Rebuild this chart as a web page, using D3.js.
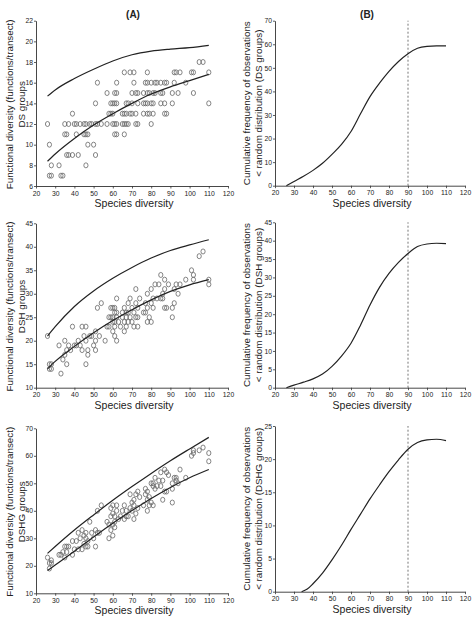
<!DOCTYPE html>
<head>
  <meta charset="utf-8">
  <script src="https://d3js.org/d3.v7.min.js"></script>
  <style>
    body { margin: 0; background: #fff; }
    text { font-family: "Liberation Sans", Arial, sans-serif; fill: #222; }
  </style>
</head>
<body>
  <svg width="474" height="621"></svg>
  <script>
    // --- data ---
    const xTicks = [20, 30, 40, 50, 60, 70, 80, 90, 100, 110, 120];

    // DS groups: species diversity / functional diversity
    const dsPoints = [
      [105,18],[107,18],
      [66,17],[69,17],[71,17],[78,17],[92,17],[93,17],[95,17],[101,17],[102,17],[110,17],
      [52,16],[62,16],[71,16],[77,16],[78,16],[80,16],[82,16],[83,16],[85,16],[87,16],[88,16],[92,16],[98,16],
      [57,15],[61,15],[62,15],[70,15],[72,15],[73,15],[76,15],[78,15],[79,15],[81,15],[82,15],[85,15],[86,15],[91,15],[94,15],[102,15],
      [51,14],[59,14],[60,14],[61,14],[62,14],[67,14],[68,14],[70,14],[73,14],[76,14],[77,14],[78,14],[80,14],[81,14],[85,14],[87,14],[91,14],[110,14],
      [39,13],[58,13],[59,13],[60,13],[65,13],[66,13],[67,13],[69,13],[70,13],[72,13],[76,13],[78,13],[79,13],[81,13],[87,13],[88,13],
      [26,12],[35,12],[37,12],[40,12],[41,12],[43,12],[45,12],[46,12],[48,12],[49,12],[51,12],[52,12],[54,12],[57,12],[60,12],[61,12],[62,12],[65,12],[66,12],[67,12],[68,12],[72,12],[73,12],[80,12],
      [35,11],[36,11],[41,11],[45,11],[46,11],[47,11],[61,11],[62,11],[66,11],
      [27,10],[47,10],[50,10],
      [36,9],[37,9],[39,9],[42,9],[51,9],
      [28,8],[32,8],[46,8],
      [27,7],[28,7],[33,7],[34,7]
    ];
    const dsUpper = [[26,14.7],[30,15.3],[40,16.4],[50,17.3],[60,18.1],[70,18.7],[80,19.05],[90,19.25],[100,19.4],[110,19.62]];
    const dsLower = [[26,8.4],[30,9.1],[40,10.6],[50,11.9],[60,13.0],[70,14.0],[80,14.9],[90,15.6],[100,16.2],[110,16.8]];
    const dsCum = [[26,0],[30,1.8],[35,4],[40,6.5],[45,9.5],[50,13.3],[55,17.5],[60,23],[65,30.5],[70,37.8],[75,43.5],[80,48.5],[85,52.7],[90,56],[95,58.3],[100,59.1],[105,59.3],[110,59.3]];

    // DSH groups
    const dshPoints = [
      [26,21],[27,14],[27,15],[28,15],[28,14],[32,19],[33,13],[34,16],[35,17],[35,20],[36,15],[36,18],[37,19],[38,18],
      [39,23],[40,19],[41,19],[42,20],[43,19],[44,23],[44,18],[45,21],[46,23],[46,15],[46,20],[47,17],[47,18],[48,21],[49,21],
      [50,19],[51,20],[51,18],[51,22],[52,27],[53,21],[54,28],[56,20],[57,23],[58,23],[58,25],[59,25],[59,27],[60,22],[60,25],[60,27],
      [60,24],[61,21],[61,24],[61,26],[61,23],[61,27],[62,29],[62,20],[62,25],[62,26],[63,24],[64,23],[65,25],[65,26],[66,22],[66,24],[66,27],
      [67,23],[67,25],[67,26],[68,26],[68,28],[68,24],[69,29],[69,25],[70,27],[70,24],[71,23],[71,26],[72,31],[72,28],[72,25],[73,23],[73,27],
      [73,25],[74,29],[76,26],[77,26],[77,28],[78,30],[78,24],[78,27],[79,25],[80,24],[80,28],[80,31],[81,27],[81,29],[82,32],[83,29],
      [84,32],[85,34],[85,29],[86,29],[86,30],[87,33],[87,31],[88,27],[87,27],[89,32],[91,25],[91,27],[92,28],[92,31],[93,32],[94,30],
      [95,32],[98,33],[101,35],[102,34],[102,33],[105,38],[107,39],[110,33],[110,32]
    ];
    const dshUpper = [[26,21],[30,23],[40,27.3],[50,30.6],[60,33.3],[70,35.6],[80,37.6],[90,39.2],[100,40.4],[110,41.5]];
    const dshLower = [[26,14],[30,15.6],[40,18.8],[50,21.7],[60,24.3],[70,26.6],[80,28.7],[90,30.5],[100,31.9],[110,33]];
    const dshCum = [[26,0],[30,0.7],[35,1.5],[40,2.4],[45,3.7],[50,5.8],[55,8.6],[60,12.1],[65,17],[70,22.5],[75,27.3],[80,31.1],[85,34.1],[90,36.5],[95,38.4],[100,39.1],[105,39.3],[110,39.2]];

    // DSHG groups
    const dshgPoints = [
      [26,23],[27,19],[27,21],[28,22],[28,21],[32,24],[33,24],[34,25],[35,23],[35,27],[36,27],[36,25],[37,27],[39,29],[39,24],
      [40,26],[41,29],[42,26],[42,32],[43,30],[44,33],[44,26],[45,31],[45,28],[46,32],[46,30],[46,27],[47,27],[47,29],[48,36],
      [49,32],[50,30],[51,33],[51,27],[52,40],[52,32],[53,32],[54,42],[57,36],[58,30],[58,35],[59,41],[59,38],[59,33],[60,31],
      [60,35],[60,39],[60,42],[61,34],[61,36],[61,38],[62,40],[62,42],[63,37],[64,38],[65,40],[66,42],[66,37],[67,38],[67,40],
      [68,38],[69,41],[69,46],[70,43],[70,40],[71,44],[71,42],[71,37],[72,46],[72,39],[73,41],[73,47],[74,45],[76,42],[77,46],
      [77,48],[78,47],[78,44],[78,40],[79,42],[79,45],[80,50],[80,43],[81,42],[81,49],[81,50],[82,52],[82,48],[83,49],[84,51],
      [85,54],[85,49],[86,44],[86,51],[87,55],[87,47],[88,54],[88,47],[89,53],[91,50],[91,43],[91,48],[92,52],[93,51],[93,52],
      [94,50],[95,55],[98,52],[101,60],[102,61],[102,62],[105,62],[107,63],[110,61],[110,58]
    ];
    const dshgUpper = [[26,24.5],[30,27],[40,33],[50,38.5],[60,43.8],[70,48.8],[80,53.6],[90,58.2],[100,62.5],[110,66.7]];
    const dshgLower = [[26,18.3],[30,20.3],[40,25.3],[50,30.5],[60,35.5],[70,40.1],[80,44.5],[90,48.5],[100,52],[110,55]];
    const dshgCum = [[34,0],[37,0.4],[40,1.2],[45,2.8],[50,4.8],[55,7],[60,9.4],[65,11.7],[70,14],[75,16.1],[80,18.1],[85,19.9],[90,21.5],[95,22.5],[100,22.9],[105,23],[110,22.8]];

    const groups = ['DS', 'DSH', 'DSHG'];
    const yTicksA = [[6,8,10,12,14,16,18,20,22], [10,15,20,25,30,35,40,45], [10,20,30,40,50,60,70]];
    const yTicksB = [[0,10,20,30,40,50,60,70], [0,5,10,15,20,25,30,35,40,45], [0,5,10,15,20,25]];
    const pointsA = [dsPoints, dshPoints, dshgPoints];
    const upperA = [dsUpper, dshUpper, dshgUpper];
    const lowerA = [dsLower, dshLower, dshgLower];
    const cumB = [dsCum, dshCum, dshgCum];
    const cutoff = 90;

    // --- layout ---
    const svg = d3.select('svg');
    const rows = [
      { a: [20.7, 186], b: [20.7, 185.7] },
      { a: [223.3, 387.7], b: [222.3, 387.7] },
      { a: [428.3, 593.3], b: [426, 591.7] }
    ];
    const colA = [36, 228];
    const colB = [275, 465];

    svg.append('text').attr('x', 133).attr('y', 18).attr('text-anchor', 'middle')
      .attr('font-size', 10).attr('font-weight', 'bold').text('(A)');
    svg.append('text').attr('x', 367).attr('y', 18).attr('text-anchor', 'middle')
      .attr('font-size', 10).attr('font-weight', 'bold').text('(B)');

    const line = d3.line().curve(d3.curveMonotoneX);

    function axes(g, x, y, yTicks) {
      const xa = g.append('g').attr('transform', `translate(0,${y.range()[0]})`)
        .call(d3.axisBottom(x).tickValues(xTicks).tickSize(2.5).tickPadding(2).tickSizeOuter(0));
      const ya = g.append('g').attr('transform', `translate(${x.range()[0]},0)`)
        .call(d3.axisLeft(y).tickValues(yTicks).tickSize(2).tickPadding(1).tickSizeOuter(0));
      [xa, ya].forEach(a => {
        a.select('.domain').attr('stroke', '#333').attr('stroke-width', 0.9);
        a.selectAll('.tick line').attr('stroke', '#333').attr('stroke-width', 0.8);
        a.selectAll('.tick text').attr('font-size', 6.8)
          .attr('font-family', '"Liberation Sans", Arial, sans-serif')
          .attr('fill', '#333');
      });
      xa.selectAll('.tick text').attr('dy', '0.75em');
      g.append('text').attr('x', (x.range()[0] + x.range()[1]) / 2 + 2)
        .attr('y', y.range()[0] + 21).attr('text-anchor', 'middle')
        .attr('font-size', 10.5).text('Species diversity');
    }

    rows.forEach((r, i) => {
      // panel A
      const gA = svg.append('g');
      const xA = d3.scaleLinear().domain([20, 120]).range(colA);
      const yT = yTicksA[i];
      const yA = d3.scaleLinear().domain([yT[0], yT[yT.length - 1]]).range([r.a[1], r.a[0]]);
      axes(gA, xA, yA, yT);
      gA.selectAll('ellipse').data(pointsA[i]).join('ellipse')
        .attr('cx', d => xA(d[0])).attr('cy', d => yA(d[1]))
        .attr('rx', 2.1).attr('ry', 2.5)
        .attr('fill', 'none').attr('stroke', '#666').attr('stroke-width', 0.8);
      [upperA[i], lowerA[i]].forEach(c => {
        gA.append('path').attr('d', line(c.map(d => [xA(d[0]), yA(d[1])])))
          .attr('fill', 'none').attr('stroke', '#222').attr('stroke-width', 1.2);
      });
      const cyA = (r.a[0] + r.a[1]) / 2 + 1;
      gA.append('text').attr('transform', `translate(13,${cyA}) rotate(-90)`)
        .attr('text-anchor', 'middle').attr('font-size', 9.8)
        .text('Functional diversity (functions/transect)');
      gA.append('text').attr('transform', `translate(24.5,${cyA}) rotate(-90)`)
        .attr('text-anchor', 'middle').attr('font-size', 9.8)
        .text(groups[i] + ' groups');

      // panel B
      const gB = svg.append('g');
      const xB = d3.scaleLinear().domain([20, 120]).range(colB);
      const yTb = yTicksB[i];
      const yB = d3.scaleLinear().domain([0, yTb[yTb.length - 1]]).range([r.b[1], r.b[0]]);
      axes(gB, xB, yB, yTb);
      gB.append('line').attr('x1', xB(cutoff)).attr('x2', xB(cutoff))
        .attr('y1', yB(0)).attr('y2', yB(yTb[yTb.length - 1]))
        .attr('stroke', '#666').attr('stroke-width', 0.9).attr('stroke-dasharray', '2,2');
      gB.append('path').attr('d', line(cumB[i].map(d => [xB(d[0]), yB(d[1])])))
        .attr('fill', 'none').attr('stroke', '#222').attr('stroke-width', 1.2);
      const cyB = (r.b[0] + r.b[1]) / 2;
      gB.append('text').attr('transform', `translate(250,${cyB}) rotate(-90)`)
        .attr('text-anchor', 'middle').attr('font-size', 9.8)
        .text('Cumulative frequency of observations');
      gB.append('text').attr('transform', `translate(261.5,${cyB}) rotate(-90)`)
        .attr('text-anchor', 'middle').attr('font-size', 9.8)
        .text('< random distribution (' + groups[i] + ' groups)');
    });
  </script>
</body>
